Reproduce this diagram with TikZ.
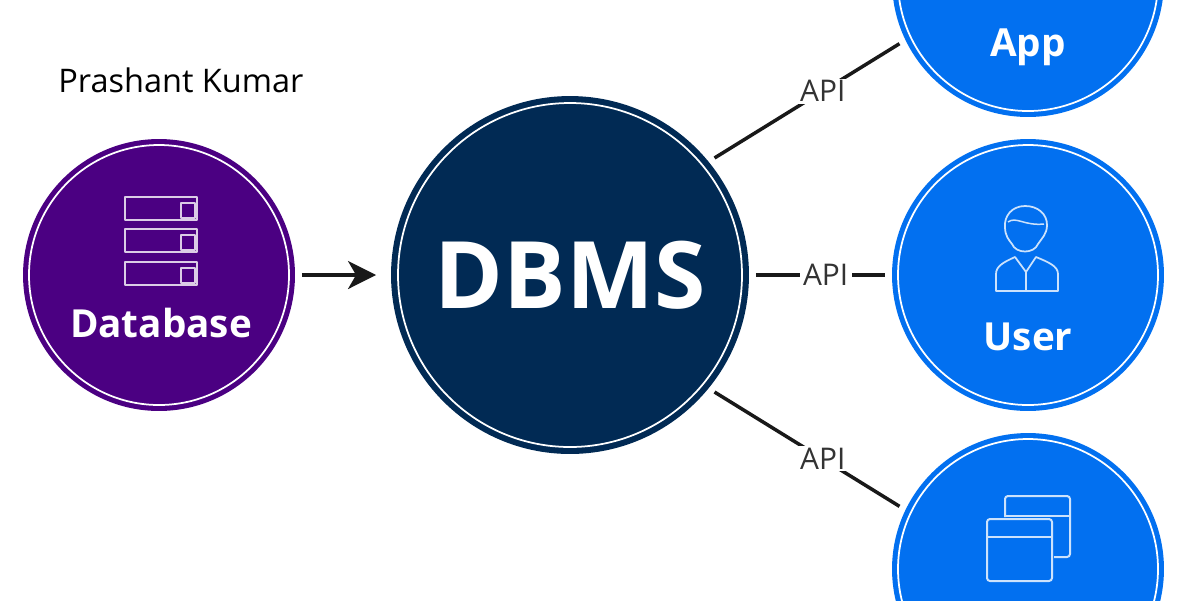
\documentclass[tikz,border=0pt]{standalone}
\usepackage{fontspec}
\setmainfont{Open Sans}
\newfontfamily\labelfont{Open Sans}
\definecolor{dbpurple}{RGB}{75, 0, 130}
\definecolor{dbnavy}{RGB}{1, 42, 84}
\definecolor{dbblue}{RGB}{2, 112, 240}
\usetikzlibrary{arrows.meta, positioning}

\begin{document}
\begin{tikzpicture}[
  x=0.02cm, y=-0.02cm,
  nd/.style={circle, fill=#1, inner sep=0pt, outer sep=0.14cm, minimum size=5.44cm},
  bignd/.style={circle, fill=dbnavy, inner sep=0pt, outer sep=0.14cm, minimum size=7.16cm, text=white, font=\labelfont\bfseries\fontsize{53}{60}\selectfont},
  ring/.style={draw=white, line width=0.035cm},
  icon/.style={draw=white!80!#1, line width=0.04cm, line join=round},
  captext/.style={text=white, font=\labelfont\bfseries\fontsize{22}{24}\selectfont, inner sep=0pt},
  arr/.style={-{Stealth[length=0.56cm, width=0.56cm, inset=0.16cm]}, line width=0.07cm, black!90},
  lnk/.style={line width=0.07cm, black!90},
  api/.style={fill=white, text=black!80, font=\labelfont\fontsize{17}{18}\selectfont, inner sep=0pt, minimum width=1.04cm, minimum height=0.5cm},
]
  \useasboundingbox (0,0) rectangle (1200,600);
  \clip (0,0) rectangle (1200,600);

  \node[nd=dbpurple] (db) at (159, 275) {};
  \node[bignd] (dbms) at (570, 275) {DBMS};
  \node[nd=dbblue] (app) at (1028, -19) {};
  \node[nd=dbblue] (user) at (1028, 275) {};
  \node[nd=dbblue] (win) at (1028, 569) {};

  \draw[ring] (db) circle (130);
  \draw[ring] (dbms) circle (172);
  \draw[ring] (app) circle (130);
  \draw[ring] (user) circle (130);
  \draw[ring] (win) circle (130);

  \node[captext] (dbtext) at (161, 323) {Database};
  \node[captext] (apptext) at (1028, 47) {App};
  \node[captext] (usertext) at (1028, 337) {User};
  \node[anchor=west, inner sep=0pt, font=\fontsize{18.5}{20}\selectfont] (author) at (58, 80) {Prashant Kumar};

  \draw[arr, shorten >=0.16cm] (db) -- (dbms);
  \draw[lnk] (dbms.39) -- node[api, pos=0.585] (apia) {API} (app.206);
  \draw[lnk] (dbms) -- node[api, pos=0.54] (apib) {API} (user);
  \draw[lnk] (dbms.-39) -- node[api, pos=0.585] (apic) {API} (win.154);

  \foreach \y in {197, 229, 262} {
    \draw[icon=dbpurple] (125, \y) rectangle (197, \y+23);
    \draw[icon=dbpurple, line width=0.025cm] (181, \y+6) rectangle (195, \y+21);
  }

  \draw[icon=dbblue, line width=0.035cm] (1025, 206) .. controls (1012, 206) and (1004, 216) .. (1005, 227)
    .. controls (1005, 236) and (1009, 240) .. (1012, 244) .. controls (1016, 254) and (1034, 254) .. (1038, 244)
    .. controls (1042, 238) and (1047, 234) .. (1047, 225) .. controls (1047, 214) and (1038, 206) .. (1025, 206);
  \draw[icon=dbblue, line width=0.03cm] (1008, 222) .. controls (1016, 216) and (1024, 226) .. (1044, 224);
  \draw[icon=dbblue, line width=0.035cm] (996, 291) -- (996, 274) .. controls (996, 266) and (1004, 262) .. (1015, 257)
    -- (1026, 272) -- (1036, 257) .. controls (1048, 262) and (1058, 266) .. (1058, 274) -- (1058, 291) -- cycle;
  \draw[icon=dbblue, line width=0.03cm] (1026, 272) -- (1026, 291);

  \draw[icon=dbblue, rounded corners=0.06cm] (987, 519) rectangle (1052, 581);
  \draw[icon=dbblue] (987, 537) -- (1052, 537);
  \draw[icon=dbblue, rounded corners=0.06cm] (1005, 517) -- (1005, 496) -- (1070, 496) -- (1070, 557) -- (1054, 557);
  \draw[icon=dbblue] (1005, 516) -- (1070, 516);
\end{tikzpicture}
\end{document}
